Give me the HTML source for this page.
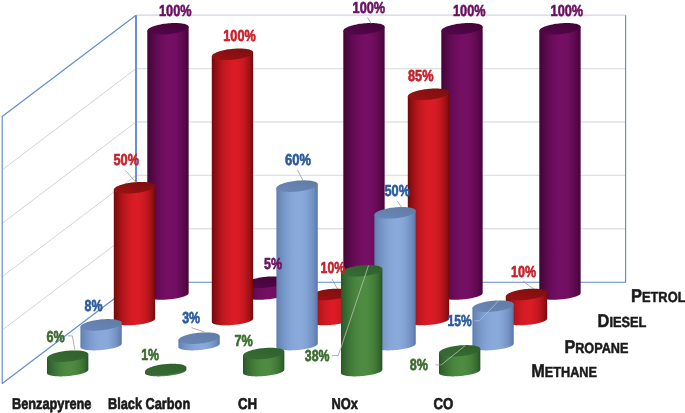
<!DOCTYPE html>
<html><head><meta charset="utf-8"><title>Chart</title>
<style>html,body{margin:0;padding:0;background:#fff;}body{width:685px;height:413px;overflow:hidden;}svg{display:block;}text{text-rendering:geometricPrecision;}</style>
</head><body>
<svg width="685" height="413" viewBox="0 0 685 413">
<defs><linearGradient id="g-purple" x1="0" y1="0" x2="1" y2="0"><stop offset="0" stop-color="#3e0334"/><stop offset="0.04" stop-color="#47053c"/><stop offset="0.08" stop-color="#4e0642"/><stop offset="0.14" stop-color="#570849"/><stop offset="0.2" stop-color="#5e0a50"/><stop offset="0.27" stop-color="#660c57"/><stop offset="0.35" stop-color="#6d0d5d"/><stop offset="0.45" stop-color="#730f62"/><stop offset="0.55" stop-color="#750f64"/><stop offset="0.65" stop-color="#730f62"/><stop offset="0.73" stop-color="#6e0d5e"/><stop offset="0.8" stop-color="#660c57"/><stop offset="0.86" stop-color="#5e0a50"/><stop offset="0.92" stop-color="#540847"/><stop offset="0.96" stop-color="#4b063f"/><stop offset="1" stop-color="#3c0332"/></linearGradient><linearGradient id="t-purple" x1="0" y1="1" x2="1" y2="0"><stop offset="0" stop-color="#54074b"/><stop offset="1" stop-color="#440339"/></linearGradient><linearGradient id="g-red" x1="0" y1="0" x2="1" y2="0"><stop offset="0" stop-color="#700808"/><stop offset="0.04" stop-color="#810b0d"/><stop offset="0.08" stop-color="#8e0e11"/><stop offset="0.14" stop-color="#9f1115"/><stop offset="0.2" stop-color="#ae141a"/><stop offset="0.27" stop-color="#bd171e"/><stop offset="0.35" stop-color="#cb1922"/><stop offset="0.45" stop-color="#d61b25"/><stop offset="0.55" stop-color="#da1c26"/><stop offset="0.65" stop-color="#d61b25"/><stop offset="0.73" stop-color="#cc1a22"/><stop offset="0.8" stop-color="#be171f"/><stop offset="0.86" stop-color="#ae141a"/><stop offset="0.92" stop-color="#9a1115"/><stop offset="0.96" stop-color="#880e10"/><stop offset="1" stop-color="#6c0909"/></linearGradient><linearGradient id="t-red" x1="0" y1="1" x2="1" y2="0"><stop offset="0" stop-color="#9a1214"/><stop offset="1" stop-color="#7d0e0e"/></linearGradient><linearGradient id="g-blue" x1="0" y1="0" x2="1" y2="0"><stop offset="0" stop-color="#5f7eb0"/><stop offset="0.04" stop-color="#6685b7"/><stop offset="0.08" stop-color="#6b8bbd"/><stop offset="0.14" stop-color="#7292c4"/><stop offset="0.2" stop-color="#7898ca"/><stop offset="0.27" stop-color="#7e9ed0"/><stop offset="0.35" stop-color="#84a4d6"/><stop offset="0.45" stop-color="#88a8da"/><stop offset="0.55" stop-color="#8aaadc"/><stop offset="0.65" stop-color="#88a8da"/><stop offset="0.73" stop-color="#83a3d4"/><stop offset="0.8" stop-color="#7c9bcd"/><stop offset="0.86" stop-color="#7593c5"/><stop offset="0.92" stop-color="#6b89ba"/><stop offset="0.96" stop-color="#6380b1"/><stop offset="1" stop-color="#5571a2"/></linearGradient><linearGradient id="t-blue" x1="0" y1="1" x2="1" y2="0"><stop offset="0" stop-color="#6a87b6"/><stop offset="1" stop-color="#607ba6"/></linearGradient><linearGradient id="g-green" x1="0" y1="0" x2="1" y2="0"><stop offset="0" stop-color="#265727"/><stop offset="0.04" stop-color="#2d5f2b"/><stop offset="0.08" stop-color="#32662e"/><stop offset="0.14" stop-color="#386e33"/><stop offset="0.2" stop-color="#3e7636"/><stop offset="0.27" stop-color="#447d3a"/><stop offset="0.35" stop-color="#49843d"/><stop offset="0.45" stop-color="#4d8940"/><stop offset="0.55" stop-color="#4f8b41"/><stop offset="0.65" stop-color="#4d8940"/><stop offset="0.73" stop-color="#49833d"/><stop offset="0.8" stop-color="#447c3a"/><stop offset="0.86" stop-color="#3d7335"/><stop offset="0.92" stop-color="#356930"/><stop offset="0.96" stop-color="#2e5f2b"/><stop offset="1" stop-color="#235024"/></linearGradient><linearGradient id="t-green" x1="0" y1="1" x2="1" y2="0"><stop offset="0" stop-color="#386c34"/><stop offset="1" stop-color="#30602d"/></linearGradient></defs>
<rect width="685" height="413" fill="#fff"/>
<path d="M2.2,169.90 L136.0,68.60" fill="none" stroke="#d4d4d4" stroke-width="1"/>
<path d="M136.0,68.60 L625.6,68.60" fill="none" stroke="#e0e0e0" stroke-width="1.4"/>
<path d="M2.2,223.30 L136.0,122.00" fill="none" stroke="#d4d4d4" stroke-width="1"/>
<path d="M136.0,122.00 L625.6,122.00" fill="none" stroke="#e0e0e0" stroke-width="1.4"/>
<path d="M2.2,276.70 L136.0,175.40" fill="none" stroke="#d4d4d4" stroke-width="1"/>
<path d="M136.0,175.40 L625.6,175.40" fill="none" stroke="#e0e0e0" stroke-width="1.4"/>
<path d="M2.2,330.10 L136.0,228.80" fill="none" stroke="#d4d4d4" stroke-width="1"/>
<path d="M136.0,228.80 L625.6,228.80" fill="none" stroke="#e0e0e0" stroke-width="1.4"/>
<path d="M136.0,15.2 L625.6,15.2" fill="none" stroke="#cfd5e2" stroke-width="1.2"/>
<path d="M136.0,15.2 L2.2,116.50 L2.2,383.50 L136.0,282.2 L625.6,282.2 L625.6,15.2" fill="none" stroke="#5f8bd0" stroke-width="1.15" stroke-linejoin="round"/>
<path d="M136.0,15.2 L136.0,282.2" fill="none" stroke="#5f8bd0" stroke-width="1.9"/>
<path d="M147.30,30.76 L147.30,296.49 L147.36,296.86 L147.55,297.21 L147.87,297.54 L148.31,297.86 L148.87,298.16 L149.55,298.44 L150.35,298.70 L151.25,298.94 L152.25,299.14 L153.35,299.32 L154.55,299.48 L155.82,299.60 L157.17,299.70 L158.59,299.76 L160.06,299.79 L161.58,299.80 L163.15,299.77 L164.74,299.71 L166.35,299.62 L167.97,299.50 L169.59,299.36 L171.20,299.18 L172.80,298.98 L174.36,298.75 L175.88,298.50 L177.36,298.22 L178.77,297.93 L180.12,297.61 L181.40,297.28 L182.59,296.93 L183.69,296.57 L184.69,296.20 L185.60,295.81 L186.39,295.43 L187.07,295.04 L187.63,294.64 L188.07,294.25 L188.39,293.86 L188.58,293.48 L188.64,293.11 L188.64,26.84 Z" fill="url(#g-purple)"/><path d="M187.42,28.80 L187.91,28.34 L188.28,27.89 L188.52,27.45 L188.63,27.01 L188.62,26.58 L188.48,26.17 L188.21,25.77 L187.82,25.39 L187.31,25.03 L186.67,24.70 L185.93,24.39 L185.07,24.11 L184.10,23.85 L183.04,23.63 L181.88,23.44 L180.64,23.28 L179.32,23.16 L177.93,23.07 L176.48,23.02 L174.97,23.00 L173.42,23.02 L171.84,23.07 L170.24,23.16 L168.62,23.28 L167.00,23.44 L165.38,23.63 L163.78,23.85 L162.20,24.11 L160.66,24.39 L159.17,24.70 L157.73,25.03 L156.35,25.39 L155.04,25.77 L153.82,26.17 L152.68,26.58 L151.64,27.01 L150.69,27.45 L149.86,27.89 L149.13,28.34 L148.52,28.80 L148.03,29.26 L147.67,29.71 L147.42,30.15 L147.31,30.59 L147.32,31.02 L147.46,31.43 L147.73,31.83 L148.12,32.21 L148.64,32.57 L149.27,32.90 L150.02,33.21 L150.88,33.49 L151.84,33.75 L152.90,33.97 L154.06,34.16 L155.30,34.32 L156.62,34.44 L158.01,34.53 L159.47,34.58 L160.97,34.60 L162.52,34.58 L164.10,34.53 L165.71,34.44 L167.32,34.32 L168.95,34.16 L170.56,33.97 L172.17,33.75 L173.74,33.49 L175.28,33.21 L176.77,32.90 L178.22,32.57 L179.59,32.21 L180.90,31.83 L182.12,31.43 L183.26,31.02 L184.31,30.59 L185.25,30.15 L186.09,29.71 L186.81,29.26 Z" fill="url(#t-purple)"/>
<path d="M245.30,284.22 L245.30,296.49 L245.36,296.86 L245.55,297.21 L245.87,297.54 L246.31,297.86 L246.87,298.16 L247.55,298.44 L248.35,298.70 L249.25,298.94 L250.25,299.14 L251.35,299.32 L252.55,299.48 L253.82,299.60 L255.17,299.70 L256.59,299.76 L258.06,299.79 L259.58,299.80 L261.15,299.77 L262.74,299.71 L264.35,299.62 L265.97,299.50 L267.59,299.36 L269.20,299.18 L270.80,298.98 L272.36,298.75 L273.88,298.50 L275.36,298.22 L276.77,297.93 L278.12,297.61 L279.40,297.28 L280.59,296.93 L281.69,296.57 L282.69,296.20 L283.60,295.81 L284.39,295.43 L285.07,295.04 L285.63,294.64 L286.07,294.25 L286.39,293.86 L286.58,293.48 L286.64,293.11 L286.64,280.30 Z" fill="url(#g-purple)"/><path d="M285.42,282.26 L285.91,281.80 L286.28,281.35 L286.52,280.91 L286.63,280.47 L286.62,280.04 L286.48,279.63 L286.21,279.23 L285.82,278.85 L285.31,278.49 L284.67,278.16 L283.93,277.85 L283.07,277.57 L282.10,277.31 L281.04,277.09 L279.88,276.90 L278.64,276.74 L277.32,276.62 L275.93,276.53 L274.48,276.48 L272.97,276.46 L271.42,276.48 L269.84,276.53 L268.24,276.62 L266.62,276.74 L265.00,276.90 L263.38,277.09 L261.78,277.31 L260.20,277.57 L258.66,277.85 L257.17,278.16 L255.73,278.49 L254.35,278.85 L253.04,279.23 L251.82,279.63 L250.68,280.04 L249.64,280.47 L248.69,280.91 L247.86,281.35 L247.13,281.80 L246.52,282.26 L246.03,282.72 L245.67,283.17 L245.42,283.61 L245.31,284.05 L245.32,284.48 L245.46,284.89 L245.73,285.29 L246.12,285.67 L246.64,286.03 L247.27,286.36 L248.02,286.67 L248.88,286.95 L249.84,287.21 L250.90,287.43 L252.06,287.62 L253.30,287.78 L254.62,287.90 L256.01,287.99 L257.47,288.04 L258.97,288.06 L260.52,288.04 L262.10,287.99 L263.71,287.90 L265.32,287.78 L266.95,287.62 L268.56,287.43 L270.17,287.21 L271.74,286.95 L273.28,286.67 L274.77,286.36 L276.22,286.03 L277.59,285.67 L278.90,285.29 L280.12,284.89 L281.26,284.48 L282.31,284.05 L283.25,283.61 L284.09,283.17 L284.81,282.72 Z" fill="url(#t-purple)"/>
<path d="M343.30,30.76 L343.30,296.49 L343.36,296.86 L343.55,297.21 L343.87,297.54 L344.31,297.86 L344.87,298.16 L345.55,298.44 L346.35,298.70 L347.25,298.94 L348.25,299.14 L349.35,299.32 L350.55,299.48 L351.82,299.60 L353.17,299.70 L354.59,299.76 L356.06,299.79 L357.58,299.80 L359.15,299.77 L360.74,299.71 L362.35,299.62 L363.97,299.50 L365.59,299.36 L367.20,299.18 L368.80,298.98 L370.36,298.75 L371.88,298.50 L373.36,298.22 L374.77,297.93 L376.12,297.61 L377.40,297.28 L378.59,296.93 L379.69,296.57 L380.69,296.20 L381.60,295.81 L382.39,295.43 L383.07,295.04 L383.63,294.64 L384.07,294.25 L384.39,293.86 L384.58,293.48 L384.64,293.11 L384.64,26.84 Z" fill="url(#g-purple)"/><path d="M383.42,28.80 L383.91,28.34 L384.28,27.89 L384.52,27.45 L384.63,27.01 L384.62,26.58 L384.48,26.17 L384.21,25.77 L383.82,25.39 L383.31,25.03 L382.67,24.70 L381.93,24.39 L381.07,24.11 L380.10,23.85 L379.04,23.63 L377.88,23.44 L376.64,23.28 L375.32,23.16 L373.93,23.07 L372.48,23.02 L370.97,23.00 L369.42,23.02 L367.84,23.07 L366.24,23.16 L364.62,23.28 L363.00,23.44 L361.38,23.63 L359.78,23.85 L358.20,24.11 L356.66,24.39 L355.17,24.70 L353.73,25.03 L352.35,25.39 L351.04,25.77 L349.82,26.17 L348.68,26.58 L347.64,27.01 L346.69,27.45 L345.86,27.89 L345.13,28.34 L344.52,28.80 L344.03,29.26 L343.67,29.71 L343.42,30.15 L343.31,30.59 L343.32,31.02 L343.46,31.43 L343.73,31.83 L344.12,32.21 L344.64,32.57 L345.27,32.90 L346.02,33.21 L346.88,33.49 L347.84,33.75 L348.90,33.97 L350.06,34.16 L351.30,34.32 L352.62,34.44 L354.01,34.53 L355.47,34.58 L356.97,34.60 L358.52,34.58 L360.10,34.53 L361.71,34.44 L363.32,34.32 L364.95,34.16 L366.56,33.97 L368.17,33.75 L369.74,33.49 L371.28,33.21 L372.77,32.90 L374.22,32.57 L375.59,32.21 L376.90,31.83 L378.12,31.43 L379.26,31.02 L380.31,30.59 L381.25,30.15 L382.09,29.71 L382.81,29.26 Z" fill="url(#t-purple)"/>
<path d="M441.30,30.76 L441.30,296.49 L441.36,296.86 L441.55,297.21 L441.87,297.54 L442.31,297.86 L442.87,298.16 L443.55,298.44 L444.35,298.70 L445.25,298.94 L446.25,299.14 L447.35,299.32 L448.55,299.48 L449.82,299.60 L451.17,299.70 L452.59,299.76 L454.06,299.79 L455.58,299.80 L457.15,299.77 L458.74,299.71 L460.35,299.62 L461.97,299.50 L463.59,299.36 L465.20,299.18 L466.80,298.98 L468.36,298.75 L469.88,298.50 L471.36,298.22 L472.77,297.93 L474.12,297.61 L475.40,297.28 L476.59,296.93 L477.69,296.57 L478.69,296.20 L479.60,295.81 L480.39,295.43 L481.07,295.04 L481.63,294.64 L482.07,294.25 L482.39,293.86 L482.58,293.48 L482.64,293.11 L482.64,26.84 Z" fill="url(#g-purple)"/><path d="M481.42,28.80 L481.91,28.34 L482.28,27.89 L482.52,27.45 L482.63,27.01 L482.62,26.58 L482.48,26.17 L482.21,25.77 L481.82,25.39 L481.31,25.03 L480.67,24.70 L479.93,24.39 L479.07,24.11 L478.10,23.85 L477.04,23.63 L475.88,23.44 L474.64,23.28 L473.32,23.16 L471.93,23.07 L470.48,23.02 L468.97,23.00 L467.42,23.02 L465.84,23.07 L464.24,23.16 L462.62,23.28 L461.00,23.44 L459.38,23.63 L457.78,23.85 L456.20,24.11 L454.66,24.39 L453.17,24.70 L451.73,25.03 L450.35,25.39 L449.04,25.77 L447.82,26.17 L446.68,26.58 L445.64,27.01 L444.69,27.45 L443.86,27.89 L443.13,28.34 L442.52,28.80 L442.03,29.26 L441.67,29.71 L441.42,30.15 L441.31,30.59 L441.32,31.02 L441.46,31.43 L441.73,31.83 L442.12,32.21 L442.64,32.57 L443.27,32.90 L444.02,33.21 L444.88,33.49 L445.84,33.75 L446.90,33.97 L448.06,34.16 L449.30,34.32 L450.62,34.44 L452.01,34.53 L453.47,34.58 L454.97,34.60 L456.52,34.58 L458.10,34.53 L459.71,34.44 L461.32,34.32 L462.95,34.16 L464.56,33.97 L466.17,33.75 L467.74,33.49 L469.28,33.21 L470.77,32.90 L472.22,32.57 L473.59,32.21 L474.90,31.83 L476.12,31.43 L477.26,31.02 L478.31,30.59 L479.25,30.15 L480.09,29.71 L480.81,29.26 Z" fill="url(#t-purple)"/>
<path d="M539.30,30.76 L539.30,296.49 L539.36,296.86 L539.55,297.21 L539.87,297.54 L540.31,297.86 L540.87,298.16 L541.55,298.44 L542.35,298.70 L543.25,298.94 L544.25,299.14 L545.35,299.32 L546.55,299.48 L547.82,299.60 L549.17,299.70 L550.59,299.76 L552.06,299.79 L553.58,299.80 L555.15,299.77 L556.74,299.71 L558.35,299.62 L559.97,299.50 L561.59,299.36 L563.20,299.18 L564.80,298.98 L566.36,298.75 L567.88,298.50 L569.36,298.22 L570.77,297.93 L572.12,297.61 L573.40,297.28 L574.59,296.93 L575.69,296.57 L576.69,296.20 L577.60,295.81 L578.39,295.43 L579.07,295.04 L579.63,294.64 L580.07,294.25 L580.39,293.86 L580.58,293.48 L580.64,293.11 L580.64,26.84 Z" fill="url(#g-purple)"/><path d="M579.42,28.80 L579.91,28.34 L580.28,27.89 L580.52,27.45 L580.63,27.01 L580.62,26.58 L580.48,26.17 L580.21,25.77 L579.82,25.39 L579.31,25.03 L578.67,24.70 L577.93,24.39 L577.07,24.11 L576.10,23.85 L575.04,23.63 L573.88,23.44 L572.64,23.28 L571.32,23.16 L569.93,23.07 L568.48,23.02 L566.97,23.00 L565.42,23.02 L563.84,23.07 L562.24,23.16 L560.62,23.28 L559.00,23.44 L557.38,23.63 L555.78,23.85 L554.20,24.11 L552.66,24.39 L551.17,24.70 L549.73,25.03 L548.35,25.39 L547.04,25.77 L545.82,26.17 L544.68,26.58 L543.64,27.01 L542.69,27.45 L541.86,27.89 L541.13,28.34 L540.52,28.80 L540.03,29.26 L539.67,29.71 L539.42,30.15 L539.31,30.59 L539.32,31.02 L539.46,31.43 L539.73,31.83 L540.12,32.21 L540.64,32.57 L541.27,32.90 L542.02,33.21 L542.88,33.49 L543.84,33.75 L544.90,33.97 L546.06,34.16 L547.30,34.32 L548.62,34.44 L550.01,34.53 L551.47,34.58 L552.97,34.60 L554.52,34.58 L556.10,34.53 L557.71,34.44 L559.32,34.32 L560.95,34.16 L562.56,33.97 L564.17,33.75 L565.74,33.49 L567.28,33.21 L568.77,32.90 L570.22,32.57 L571.59,32.21 L572.90,31.83 L574.12,31.43 L575.26,31.02 L576.31,30.59 L577.25,30.15 L578.09,29.71 L578.81,29.26 Z" fill="url(#t-purple)"/>
<path d="M113.80,189.66 L113.80,321.99 L113.86,322.36 L114.05,322.71 L114.37,323.04 L114.81,323.36 L115.37,323.66 L116.05,323.94 L116.85,324.20 L117.75,324.44 L118.75,324.64 L119.85,324.82 L121.05,324.98 L122.32,325.10 L123.67,325.20 L125.09,325.26 L126.56,325.29 L128.08,325.30 L129.65,325.27 L131.24,325.21 L132.85,325.12 L134.47,325.00 L136.09,324.86 L137.70,324.68 L139.30,324.48 L140.86,324.25 L142.38,324.00 L143.86,323.72 L145.27,323.43 L146.62,323.11 L147.90,322.78 L149.09,322.43 L150.19,322.07 L151.19,321.70 L152.10,321.31 L152.89,320.93 L153.57,320.54 L154.13,320.14 L154.57,319.75 L154.89,319.36 L155.08,318.98 L155.14,318.61 L155.14,185.74 Z" fill="url(#g-red)"/><path d="M153.92,187.70 L154.41,187.24 L154.78,186.79 L155.02,186.35 L155.13,185.91 L155.12,185.48 L154.98,185.07 L154.71,184.67 L154.32,184.29 L153.81,183.93 L153.17,183.60 L152.43,183.29 L151.57,183.01 L150.60,182.75 L149.54,182.53 L148.38,182.34 L147.14,182.18 L145.82,182.06 L144.43,181.97 L142.98,181.92 L141.47,181.90 L139.92,181.92 L138.34,181.97 L136.74,182.06 L135.12,182.18 L133.50,182.34 L131.88,182.53 L130.28,182.75 L128.70,183.01 L127.16,183.29 L125.67,183.60 L124.23,183.93 L122.85,184.29 L121.54,184.67 L120.32,185.07 L119.18,185.48 L118.14,185.91 L117.19,186.35 L116.36,186.79 L115.63,187.24 L115.02,187.70 L114.53,188.16 L114.17,188.61 L113.92,189.05 L113.81,189.49 L113.82,189.92 L113.96,190.33 L114.23,190.73 L114.62,191.11 L115.14,191.47 L115.77,191.80 L116.52,192.11 L117.38,192.39 L118.34,192.65 L119.40,192.87 L120.56,193.06 L121.80,193.22 L123.12,193.34 L124.51,193.43 L125.97,193.48 L127.47,193.50 L129.02,193.48 L130.60,193.43 L132.21,193.34 L133.82,193.22 L135.45,193.06 L137.06,192.87 L138.67,192.65 L140.24,192.39 L141.78,192.11 L143.27,191.80 L144.72,191.47 L146.09,191.11 L147.40,190.73 L148.62,190.33 L149.76,189.92 L150.81,189.49 L151.75,189.05 L152.59,188.61 L153.31,188.16 Z" fill="url(#t-red)"/>
<path d="M211.80,56.26 L211.80,321.99 L211.86,322.36 L212.05,322.71 L212.37,323.04 L212.81,323.36 L213.37,323.66 L214.05,323.94 L214.85,324.20 L215.75,324.44 L216.75,324.64 L217.85,324.82 L219.05,324.98 L220.32,325.10 L221.67,325.20 L223.09,325.26 L224.56,325.29 L226.08,325.30 L227.65,325.27 L229.24,325.21 L230.85,325.12 L232.47,325.00 L234.09,324.86 L235.70,324.68 L237.30,324.48 L238.86,324.25 L240.38,324.00 L241.86,323.72 L243.27,323.43 L244.62,323.11 L245.90,322.78 L247.09,322.43 L248.19,322.07 L249.19,321.70 L250.10,321.31 L250.89,320.93 L251.57,320.54 L252.13,320.14 L252.57,319.75 L252.89,319.36 L253.08,318.98 L253.14,318.61 L253.14,52.34 Z" fill="url(#g-red)"/><path d="M251.92,54.30 L252.41,53.84 L252.78,53.39 L253.02,52.95 L253.13,52.51 L253.12,52.08 L252.98,51.67 L252.71,51.27 L252.32,50.89 L251.81,50.53 L251.17,50.20 L250.43,49.89 L249.57,49.61 L248.60,49.35 L247.54,49.13 L246.38,48.94 L245.14,48.78 L243.82,48.66 L242.43,48.57 L240.98,48.52 L239.47,48.50 L237.92,48.52 L236.34,48.57 L234.74,48.66 L233.12,48.78 L231.50,48.94 L229.88,49.13 L228.28,49.35 L226.70,49.61 L225.16,49.89 L223.67,50.20 L222.23,50.53 L220.85,50.89 L219.54,51.27 L218.32,51.67 L217.18,52.08 L216.14,52.51 L215.19,52.95 L214.36,53.39 L213.63,53.84 L213.02,54.30 L212.53,54.76 L212.17,55.21 L211.92,55.65 L211.81,56.09 L211.82,56.52 L211.96,56.93 L212.23,57.33 L212.62,57.71 L213.14,58.07 L213.77,58.40 L214.52,58.71 L215.38,58.99 L216.34,59.25 L217.40,59.47 L218.56,59.66 L219.80,59.82 L221.12,59.94 L222.51,60.03 L223.97,60.08 L225.47,60.10 L227.02,60.08 L228.60,60.03 L230.21,59.94 L231.82,59.82 L233.45,59.66 L235.06,59.47 L236.67,59.25 L238.24,58.99 L239.78,58.71 L241.27,58.40 L242.72,58.07 L244.09,57.71 L245.40,57.33 L246.62,56.93 L247.76,56.52 L248.81,56.09 L249.75,55.65 L250.59,55.21 L251.31,54.76 Z" fill="url(#t-red)"/>
<path d="M309.80,296.38 L309.80,321.99 L309.86,322.36 L310.05,322.71 L310.37,323.04 L310.81,323.36 L311.37,323.66 L312.05,323.94 L312.85,324.20 L313.75,324.44 L314.75,324.64 L315.85,324.82 L317.05,324.98 L318.32,325.10 L319.67,325.20 L321.09,325.26 L322.56,325.29 L324.08,325.30 L325.65,325.27 L327.24,325.21 L328.85,325.12 L330.47,325.00 L332.09,324.86 L333.70,324.68 L335.30,324.48 L336.86,324.25 L338.38,324.00 L339.86,323.72 L341.27,323.43 L342.62,323.11 L343.90,322.78 L345.09,322.43 L346.19,322.07 L347.19,321.70 L348.10,321.31 L348.89,320.93 L349.57,320.54 L350.13,320.14 L350.57,319.75 L350.89,319.36 L351.08,318.98 L351.14,318.61 L351.14,292.46 Z" fill="url(#g-red)"/><path d="M349.92,294.42 L350.41,293.96 L350.78,293.51 L351.02,293.07 L351.13,292.63 L351.12,292.20 L350.98,291.79 L350.71,291.39 L350.32,291.01 L349.81,290.65 L349.17,290.32 L348.43,290.01 L347.57,289.73 L346.60,289.47 L345.54,289.25 L344.38,289.06 L343.14,288.90 L341.82,288.78 L340.43,288.69 L338.98,288.64 L337.47,288.62 L335.92,288.64 L334.34,288.69 L332.74,288.78 L331.12,288.90 L329.50,289.06 L327.88,289.25 L326.28,289.47 L324.70,289.73 L323.16,290.01 L321.67,290.32 L320.23,290.65 L318.85,291.01 L317.54,291.39 L316.32,291.79 L315.18,292.20 L314.14,292.63 L313.19,293.07 L312.36,293.51 L311.63,293.96 L311.02,294.42 L310.53,294.88 L310.17,295.33 L309.92,295.77 L309.81,296.21 L309.82,296.64 L309.96,297.05 L310.23,297.45 L310.62,297.83 L311.14,298.19 L311.77,298.52 L312.52,298.83 L313.38,299.11 L314.34,299.37 L315.40,299.59 L316.56,299.78 L317.80,299.94 L319.12,300.06 L320.51,300.15 L321.97,300.20 L323.47,300.22 L325.02,300.20 L326.60,300.15 L328.21,300.06 L329.82,299.94 L331.45,299.78 L333.06,299.59 L334.67,299.37 L336.24,299.11 L337.78,298.83 L339.27,298.52 L340.72,298.19 L342.09,297.83 L343.40,297.45 L344.62,297.05 L345.76,296.64 L346.81,296.21 L347.75,295.77 L348.59,295.33 L349.31,294.88 Z" fill="url(#t-red)"/>
<path d="M407.80,96.28 L407.80,321.99 L407.86,322.36 L408.05,322.71 L408.37,323.04 L408.81,323.36 L409.37,323.66 L410.05,323.94 L410.85,324.20 L411.75,324.44 L412.75,324.64 L413.85,324.82 L415.05,324.98 L416.32,325.10 L417.67,325.20 L419.09,325.26 L420.56,325.29 L422.08,325.30 L423.65,325.27 L425.24,325.21 L426.85,325.12 L428.47,325.00 L430.09,324.86 L431.70,324.68 L433.30,324.48 L434.86,324.25 L436.38,324.00 L437.86,323.72 L439.27,323.43 L440.62,323.11 L441.90,322.78 L443.09,322.43 L444.19,322.07 L445.19,321.70 L446.10,321.31 L446.89,320.93 L447.57,320.54 L448.13,320.14 L448.57,319.75 L448.89,319.36 L449.08,318.98 L449.14,318.61 L449.14,92.36 Z" fill="url(#g-red)"/><path d="M447.92,94.32 L448.41,93.86 L448.78,93.41 L449.02,92.97 L449.13,92.53 L449.12,92.10 L448.98,91.69 L448.71,91.29 L448.32,90.91 L447.81,90.55 L447.17,90.22 L446.43,89.91 L445.57,89.63 L444.60,89.37 L443.54,89.15 L442.38,88.96 L441.14,88.80 L439.82,88.68 L438.43,88.59 L436.98,88.54 L435.47,88.52 L433.92,88.54 L432.34,88.59 L430.74,88.68 L429.12,88.80 L427.50,88.96 L425.88,89.15 L424.28,89.37 L422.70,89.63 L421.16,89.91 L419.67,90.22 L418.23,90.55 L416.85,90.91 L415.54,91.29 L414.32,91.69 L413.18,92.10 L412.14,92.53 L411.19,92.97 L410.36,93.41 L409.63,93.86 L409.02,94.32 L408.53,94.78 L408.17,95.23 L407.92,95.67 L407.81,96.11 L407.82,96.54 L407.96,96.95 L408.23,97.35 L408.62,97.73 L409.14,98.09 L409.77,98.42 L410.52,98.73 L411.38,99.01 L412.34,99.27 L413.40,99.49 L414.56,99.68 L415.80,99.84 L417.12,99.96 L418.51,100.05 L419.97,100.10 L421.47,100.12 L423.02,100.10 L424.60,100.05 L426.21,99.96 L427.82,99.84 L429.45,99.68 L431.06,99.49 L432.67,99.27 L434.24,99.01 L435.78,98.73 L437.27,98.42 L438.72,98.09 L440.09,97.73 L441.40,97.35 L442.62,96.95 L443.76,96.54 L444.81,96.11 L445.75,95.67 L446.59,95.23 L447.31,94.78 Z" fill="url(#t-red)"/>
<path d="M505.80,296.38 L505.80,321.99 L505.86,322.36 L506.05,322.71 L506.37,323.04 L506.81,323.36 L507.37,323.66 L508.05,323.94 L508.85,324.20 L509.75,324.44 L510.75,324.64 L511.85,324.82 L513.05,324.98 L514.32,325.10 L515.67,325.20 L517.09,325.26 L518.56,325.29 L520.08,325.30 L521.65,325.27 L523.24,325.21 L524.85,325.12 L526.47,325.00 L528.09,324.86 L529.70,324.68 L531.30,324.48 L532.86,324.25 L534.38,324.00 L535.86,323.72 L537.27,323.43 L538.62,323.11 L539.90,322.78 L541.09,322.43 L542.19,322.07 L543.19,321.70 L544.10,321.31 L544.89,320.93 L545.57,320.54 L546.13,320.14 L546.57,319.75 L546.89,319.36 L547.08,318.98 L547.14,318.61 L547.14,292.46 Z" fill="url(#g-red)"/><path d="M545.92,294.42 L546.41,293.96 L546.78,293.51 L547.02,293.07 L547.13,292.63 L547.12,292.20 L546.98,291.79 L546.71,291.39 L546.32,291.01 L545.81,290.65 L545.17,290.32 L544.43,290.01 L543.57,289.73 L542.60,289.47 L541.54,289.25 L540.38,289.06 L539.14,288.90 L537.82,288.78 L536.43,288.69 L534.98,288.64 L533.47,288.62 L531.92,288.64 L530.34,288.69 L528.74,288.78 L527.12,288.90 L525.50,289.06 L523.88,289.25 L522.28,289.47 L520.70,289.73 L519.16,290.01 L517.67,290.32 L516.23,290.65 L514.85,291.01 L513.54,291.39 L512.32,291.79 L511.18,292.20 L510.14,292.63 L509.19,293.07 L508.36,293.51 L507.63,293.96 L507.02,294.42 L506.53,294.88 L506.17,295.33 L505.92,295.77 L505.81,296.21 L505.82,296.64 L505.96,297.05 L506.23,297.45 L506.62,297.83 L507.14,298.19 L507.77,298.52 L508.52,298.83 L509.38,299.11 L510.34,299.37 L511.40,299.59 L512.56,299.78 L513.80,299.94 L515.12,300.06 L516.51,300.15 L517.97,300.20 L519.47,300.22 L521.02,300.20 L522.60,300.15 L524.21,300.06 L525.82,299.94 L527.45,299.78 L529.06,299.59 L530.67,299.37 L532.24,299.11 L533.78,298.83 L535.27,298.52 L536.72,298.19 L538.09,297.83 L539.40,297.45 L540.62,297.05 L541.76,296.64 L542.81,296.21 L543.75,295.77 L544.59,295.33 L545.31,294.88 Z" fill="url(#t-red)"/>
<path d="M80.40,326.82 L80.40,347.09 L80.46,347.46 L80.65,347.81 L80.97,348.14 L81.41,348.46 L81.97,348.76 L82.65,349.04 L83.45,349.30 L84.35,349.54 L85.35,349.74 L86.45,349.92 L87.65,350.08 L88.92,350.20 L90.27,350.30 L91.69,350.36 L93.16,350.39 L94.68,350.40 L96.25,350.37 L97.84,350.31 L99.45,350.22 L101.07,350.10 L102.69,349.96 L104.30,349.78 L105.90,349.58 L107.46,349.35 L108.98,349.10 L110.46,348.82 L111.87,348.53 L113.22,348.21 L114.50,347.88 L115.69,347.53 L116.79,347.17 L117.79,346.80 L118.70,346.41 L119.49,346.03 L120.17,345.64 L120.73,345.24 L121.17,344.85 L121.49,344.46 L121.68,344.08 L121.74,343.71 L121.74,322.89 Z" fill="url(#g-blue)"/><path d="M120.52,324.86 L121.01,324.40 L121.38,323.95 L121.62,323.50 L121.73,323.06 L121.72,322.64 L121.58,322.22 L121.31,321.83 L120.92,321.45 L120.41,321.09 L119.77,320.75 L119.03,320.45 L118.17,320.16 L117.20,319.91 L116.14,319.69 L114.98,319.50 L113.74,319.34 L112.42,319.22 L111.03,319.13 L109.58,319.07 L108.07,319.06 L106.52,319.07 L104.94,319.13 L103.34,319.22 L101.72,319.34 L100.10,319.50 L98.48,319.69 L96.88,319.91 L95.30,320.16 L93.76,320.45 L92.27,320.75 L90.83,321.09 L89.45,321.45 L88.14,321.83 L86.92,322.22 L85.78,322.64 L84.74,323.06 L83.79,323.50 L82.96,323.95 L82.23,324.40 L81.62,324.86 L81.13,325.31 L80.77,325.76 L80.52,326.21 L80.41,326.65 L80.42,327.08 L80.56,327.49 L80.83,327.89 L81.22,328.27 L81.74,328.62 L82.37,328.96 L83.12,329.27 L83.98,329.55 L84.94,329.80 L86.00,330.02 L87.16,330.21 L88.40,330.37 L89.72,330.50 L91.11,330.58 L92.57,330.64 L94.07,330.66 L95.62,330.64 L97.20,330.58 L98.81,330.50 L100.42,330.37 L102.05,330.21 L103.66,330.02 L105.27,329.80 L106.84,329.55 L108.38,329.27 L109.87,328.96 L111.32,328.62 L112.69,328.27 L114.00,327.89 L115.22,327.49 L116.36,327.08 L117.41,326.65 L118.35,326.21 L119.19,325.76 L119.91,325.31 Z" fill="url(#t-blue)"/>
<path d="M178.40,340.16 L178.40,347.09 L178.46,347.46 L178.65,347.81 L178.97,348.14 L179.41,348.46 L179.97,348.76 L180.65,349.04 L181.45,349.30 L182.35,349.54 L183.35,349.74 L184.45,349.92 L185.65,350.08 L186.92,350.20 L188.27,350.30 L189.69,350.36 L191.16,350.39 L192.68,350.40 L194.25,350.37 L195.84,350.31 L197.45,350.22 L199.07,350.10 L200.69,349.96 L202.30,349.78 L203.90,349.58 L205.46,349.35 L206.98,349.10 L208.46,348.82 L209.87,348.53 L211.22,348.21 L212.50,347.88 L213.69,347.53 L214.79,347.17 L215.79,346.80 L216.70,346.41 L217.49,346.03 L218.17,345.64 L218.73,345.24 L219.17,344.85 L219.49,344.46 L219.68,344.08 L219.74,343.71 L219.74,336.23 Z" fill="url(#g-blue)"/><path d="M218.52,338.20 L219.01,337.74 L219.38,337.29 L219.62,336.84 L219.73,336.40 L219.72,335.98 L219.58,335.56 L219.31,335.17 L218.92,334.79 L218.41,334.43 L217.77,334.09 L217.03,333.79 L216.17,333.50 L215.20,333.25 L214.14,333.03 L212.98,332.84 L211.74,332.68 L210.42,332.56 L209.03,332.47 L207.58,332.41 L206.07,332.40 L204.52,332.41 L202.94,332.47 L201.34,332.56 L199.72,332.68 L198.10,332.84 L196.48,333.03 L194.88,333.25 L193.30,333.50 L191.76,333.79 L190.27,334.09 L188.83,334.43 L187.45,334.79 L186.14,335.17 L184.92,335.56 L183.78,335.98 L182.74,336.40 L181.79,336.84 L180.96,337.29 L180.23,337.74 L179.62,338.20 L179.13,338.65 L178.77,339.10 L178.52,339.55 L178.41,339.99 L178.42,340.42 L178.56,340.83 L178.83,341.23 L179.22,341.61 L179.74,341.96 L180.37,342.30 L181.12,342.61 L181.98,342.89 L182.94,343.14 L184.00,343.36 L185.16,343.55 L186.40,343.71 L187.72,343.84 L189.11,343.92 L190.57,343.98 L192.07,344.00 L193.62,343.98 L195.20,343.92 L196.81,343.84 L198.42,343.71 L200.05,343.55 L201.66,343.36 L203.27,343.14 L204.84,342.89 L206.38,342.61 L207.87,342.30 L209.32,341.96 L210.69,341.61 L212.00,341.23 L213.22,340.83 L214.36,340.42 L215.41,339.99 L216.35,339.55 L217.19,339.10 L217.91,338.65 Z" fill="url(#t-blue)"/>
<path d="M276.40,188.08 L276.40,347.09 L276.46,347.46 L276.65,347.81 L276.97,348.14 L277.41,348.46 L277.97,348.76 L278.65,349.04 L279.45,349.30 L280.35,349.54 L281.35,349.74 L282.45,349.92 L283.65,350.08 L284.92,350.20 L286.27,350.30 L287.69,350.36 L289.16,350.39 L290.68,350.40 L292.25,350.37 L293.84,350.31 L295.45,350.22 L297.07,350.10 L298.69,349.96 L300.30,349.78 L301.90,349.58 L303.46,349.35 L304.98,349.10 L306.46,348.82 L307.87,348.53 L309.22,348.21 L310.50,347.88 L311.69,347.53 L312.79,347.17 L313.79,346.80 L314.70,346.41 L315.49,346.03 L316.17,345.64 L316.73,345.24 L317.17,344.85 L317.49,344.46 L317.68,344.08 L317.74,343.71 L317.74,184.16 Z" fill="url(#g-blue)"/><path d="M316.52,186.12 L317.01,185.66 L317.38,185.21 L317.62,184.77 L317.73,184.33 L317.72,183.90 L317.58,183.49 L317.31,183.09 L316.92,182.71 L316.41,182.35 L315.77,182.02 L315.03,181.71 L314.17,181.43 L313.20,181.17 L312.14,180.95 L310.98,180.76 L309.74,180.60 L308.42,180.48 L307.03,180.39 L305.58,180.34 L304.07,180.32 L302.52,180.34 L300.94,180.39 L299.34,180.48 L297.72,180.60 L296.10,180.76 L294.48,180.95 L292.88,181.17 L291.30,181.43 L289.76,181.71 L288.27,182.02 L286.83,182.35 L285.45,182.71 L284.14,183.09 L282.92,183.49 L281.78,183.90 L280.74,184.33 L279.79,184.77 L278.96,185.21 L278.23,185.66 L277.62,186.12 L277.13,186.58 L276.77,187.03 L276.52,187.47 L276.41,187.91 L276.42,188.34 L276.56,188.75 L276.83,189.15 L277.22,189.53 L277.74,189.89 L278.37,190.22 L279.12,190.53 L279.98,190.81 L280.94,191.07 L282.00,191.29 L283.16,191.48 L284.40,191.64 L285.72,191.76 L287.11,191.85 L288.57,191.90 L290.07,191.92 L291.62,191.90 L293.20,191.85 L294.81,191.76 L296.42,191.64 L298.05,191.48 L299.66,191.29 L301.27,191.07 L302.84,190.81 L304.38,190.53 L305.87,190.22 L307.32,189.89 L308.69,189.53 L310.00,189.15 L311.22,188.75 L312.36,188.34 L313.41,187.91 L314.35,187.47 L315.19,187.03 L315.91,186.58 Z" fill="url(#t-blue)"/>
<path d="M374.40,214.76 L374.40,347.09 L374.46,347.46 L374.65,347.81 L374.97,348.14 L375.41,348.46 L375.97,348.76 L376.65,349.04 L377.45,349.30 L378.35,349.54 L379.35,349.74 L380.45,349.92 L381.65,350.08 L382.92,350.20 L384.27,350.30 L385.69,350.36 L387.16,350.39 L388.68,350.40 L390.25,350.37 L391.84,350.31 L393.45,350.22 L395.07,350.10 L396.69,349.96 L398.30,349.78 L399.90,349.58 L401.46,349.35 L402.98,349.10 L404.46,348.82 L405.87,348.53 L407.22,348.21 L408.50,347.88 L409.69,347.53 L410.79,347.17 L411.79,346.80 L412.70,346.41 L413.49,346.03 L414.17,345.64 L414.73,345.24 L415.17,344.85 L415.49,344.46 L415.68,344.08 L415.74,343.71 L415.74,210.84 Z" fill="url(#g-blue)"/><path d="M414.52,212.80 L415.01,212.34 L415.38,211.89 L415.62,211.45 L415.73,211.01 L415.72,210.58 L415.58,210.17 L415.31,209.77 L414.92,209.39 L414.41,209.03 L413.77,208.70 L413.03,208.39 L412.17,208.11 L411.20,207.85 L410.14,207.63 L408.98,207.44 L407.74,207.28 L406.42,207.16 L405.03,207.07 L403.58,207.02 L402.07,207.00 L400.52,207.02 L398.94,207.07 L397.34,207.16 L395.72,207.28 L394.10,207.44 L392.48,207.63 L390.88,207.85 L389.30,208.11 L387.76,208.39 L386.27,208.70 L384.83,209.03 L383.45,209.39 L382.14,209.77 L380.92,210.17 L379.78,210.58 L378.74,211.01 L377.79,211.45 L376.96,211.89 L376.23,212.34 L375.62,212.80 L375.13,213.26 L374.77,213.71 L374.52,214.15 L374.41,214.59 L374.42,215.02 L374.56,215.43 L374.83,215.83 L375.22,216.21 L375.74,216.57 L376.37,216.90 L377.12,217.21 L377.98,217.49 L378.94,217.75 L380.00,217.97 L381.16,218.16 L382.40,218.32 L383.72,218.44 L385.11,218.53 L386.57,218.58 L388.07,218.60 L389.62,218.58 L391.20,218.53 L392.81,218.44 L394.42,218.32 L396.05,218.16 L397.66,217.97 L399.27,217.75 L400.84,217.49 L402.38,217.21 L403.87,216.90 L405.32,216.57 L406.69,216.21 L408.00,215.83 L409.22,215.43 L410.36,215.02 L411.41,214.59 L412.35,214.15 L413.19,213.71 L413.91,213.26 Z" fill="url(#t-blue)"/>
<path d="M472.40,308.14 L472.40,347.09 L472.46,347.46 L472.65,347.81 L472.97,348.14 L473.41,348.46 L473.97,348.76 L474.65,349.04 L475.45,349.30 L476.35,349.54 L477.35,349.74 L478.45,349.92 L479.65,350.08 L480.92,350.20 L482.27,350.30 L483.69,350.36 L485.16,350.39 L486.68,350.40 L488.25,350.37 L489.84,350.31 L491.45,350.22 L493.07,350.10 L494.69,349.96 L496.30,349.78 L497.90,349.58 L499.46,349.35 L500.98,349.10 L502.46,348.82 L503.87,348.53 L505.22,348.21 L506.50,347.88 L507.69,347.53 L508.79,347.17 L509.79,346.80 L510.70,346.41 L511.49,346.03 L512.17,345.64 L512.73,345.24 L513.17,344.85 L513.49,344.46 L513.68,344.08 L513.74,343.71 L513.74,304.22 Z" fill="url(#g-blue)"/><path d="M512.52,306.18 L513.01,305.72 L513.38,305.27 L513.62,304.83 L513.73,304.39 L513.72,303.96 L513.58,303.55 L513.31,303.15 L512.92,302.77 L512.41,302.41 L511.77,302.08 L511.03,301.77 L510.17,301.49 L509.20,301.23 L508.14,301.01 L506.98,300.82 L505.74,300.66 L504.42,300.54 L503.03,300.45 L501.58,300.40 L500.07,300.38 L498.52,300.40 L496.94,300.45 L495.34,300.54 L493.72,300.66 L492.10,300.82 L490.48,301.01 L488.88,301.23 L487.30,301.49 L485.76,301.77 L484.27,302.08 L482.83,302.41 L481.45,302.77 L480.14,303.15 L478.92,303.55 L477.78,303.96 L476.74,304.39 L475.79,304.83 L474.96,305.27 L474.23,305.72 L473.62,306.18 L473.13,306.64 L472.77,307.09 L472.52,307.53 L472.41,307.97 L472.42,308.40 L472.56,308.81 L472.83,309.21 L473.22,309.59 L473.74,309.95 L474.37,310.28 L475.12,310.59 L475.98,310.87 L476.94,311.13 L478.00,311.35 L479.16,311.54 L480.40,311.70 L481.72,311.82 L483.11,311.91 L484.57,311.96 L486.07,311.98 L487.62,311.96 L489.20,311.91 L490.81,311.82 L492.42,311.70 L494.05,311.54 L495.66,311.35 L497.27,311.13 L498.84,310.87 L500.38,310.59 L501.87,310.28 L503.32,309.95 L504.69,309.59 L506.00,309.21 L507.22,308.81 L508.36,308.40 L509.41,307.97 L510.35,307.53 L511.19,307.09 L511.91,306.64 Z" fill="url(#t-blue)"/>
<path d="M47.00,358.16 L47.00,373.09 L47.06,373.46 L47.25,373.81 L47.57,374.14 L48.01,374.46 L48.57,374.76 L49.25,375.04 L50.05,375.30 L50.95,375.54 L51.95,375.74 L53.05,375.92 L54.25,376.08 L55.52,376.20 L56.87,376.30 L58.29,376.36 L59.76,376.39 L61.28,376.40 L62.85,376.37 L64.44,376.31 L66.05,376.22 L67.67,376.10 L69.29,375.96 L70.90,375.78 L72.50,375.58 L74.06,375.35 L75.58,375.10 L77.06,374.82 L78.47,374.53 L79.82,374.21 L81.10,373.88 L82.29,373.53 L83.39,373.17 L84.39,372.80 L85.30,372.41 L86.09,372.03 L86.77,371.64 L87.33,371.24 L87.77,370.85 L88.09,370.46 L88.28,370.08 L88.34,369.71 L88.34,354.23 Z" fill="url(#g-green)"/><path d="M87.12,356.19 L87.61,355.74 L87.98,355.28 L88.22,354.84 L88.33,354.40 L88.32,353.97 L88.18,353.56 L87.91,353.16 L87.52,352.78 L87.01,352.43 L86.37,352.09 L85.63,351.78 L84.77,351.50 L83.80,351.25 L82.74,351.02 L81.58,350.83 L80.34,350.68 L79.02,350.55 L77.63,350.46 L76.18,350.41 L74.67,350.39 L73.12,350.41 L71.54,350.46 L69.94,350.55 L68.32,350.68 L66.70,350.83 L65.08,351.02 L63.48,351.25 L61.90,351.50 L60.36,351.78 L58.87,352.09 L57.43,352.43 L56.05,352.78 L54.74,353.16 L53.52,353.56 L52.38,353.97 L51.34,354.40 L50.39,354.84 L49.56,355.28 L48.83,355.74 L48.22,356.19 L47.73,356.65 L47.37,357.10 L47.12,357.55 L47.01,357.98 L47.02,358.41 L47.16,358.83 L47.43,359.22 L47.82,359.60 L48.34,359.96 L48.97,360.29 L49.72,360.60 L50.58,360.88 L51.54,361.14 L52.60,361.36 L53.76,361.55 L55.00,361.71 L56.32,361.83 L57.71,361.92 L59.17,361.97 L60.67,361.99 L62.22,361.97 L63.80,361.92 L65.41,361.83 L67.02,361.71 L68.65,361.55 L70.26,361.36 L71.87,361.14 L73.44,360.88 L74.98,360.60 L76.47,360.29 L77.92,359.96 L79.29,359.60 L80.60,359.22 L81.82,358.83 L82.96,358.41 L84.01,357.98 L84.95,357.55 L85.79,357.10 L86.51,356.65 Z" fill="url(#t-green)"/>
<path d="M145.00,371.50 L145.00,373.09 L145.06,373.46 L145.25,373.81 L145.57,374.14 L146.01,374.46 L146.57,374.76 L147.25,375.04 L148.05,375.30 L148.95,375.54 L149.95,375.74 L151.05,375.92 L152.25,376.08 L153.52,376.20 L154.87,376.30 L156.29,376.36 L157.76,376.39 L159.28,376.40 L160.85,376.37 L162.44,376.31 L164.05,376.22 L165.67,376.10 L167.29,375.96 L168.90,375.78 L170.50,375.58 L172.06,375.35 L173.58,375.10 L175.06,374.82 L176.47,374.53 L177.82,374.21 L179.10,373.88 L180.29,373.53 L181.39,373.17 L182.39,372.80 L183.30,372.41 L184.09,372.03 L184.77,371.64 L185.33,371.24 L185.77,370.85 L186.09,370.46 L186.28,370.08 L186.34,369.71 L186.34,367.57 Z" fill="url(#g-green)"/><path d="M185.12,369.53 L185.61,369.08 L185.98,368.62 L186.22,368.18 L186.33,367.74 L186.32,367.31 L186.18,366.90 L185.91,366.50 L185.52,366.12 L185.01,365.77 L184.37,365.43 L183.63,365.12 L182.77,364.84 L181.80,364.59 L180.74,364.36 L179.58,364.17 L178.34,364.02 L177.02,363.89 L175.63,363.80 L174.18,363.75 L172.67,363.73 L171.12,363.75 L169.54,363.80 L167.94,363.89 L166.32,364.02 L164.70,364.17 L163.08,364.36 L161.48,364.59 L159.90,364.84 L158.36,365.12 L156.87,365.43 L155.43,365.77 L154.05,366.12 L152.74,366.50 L151.52,366.90 L150.38,367.31 L149.34,367.74 L148.39,368.18 L147.56,368.62 L146.83,369.08 L146.22,369.53 L145.73,369.99 L145.37,370.44 L145.12,370.89 L145.01,371.32 L145.02,371.75 L145.16,372.17 L145.43,372.56 L145.82,372.94 L146.34,373.30 L146.97,373.63 L147.72,373.94 L148.58,374.22 L149.54,374.48 L150.60,374.70 L151.76,374.89 L153.00,375.05 L154.32,375.17 L155.71,375.26 L157.17,375.31 L158.67,375.33 L160.22,375.31 L161.80,375.26 L163.41,375.17 L165.02,375.05 L166.65,374.89 L168.26,374.70 L169.87,374.48 L171.44,374.22 L172.98,373.94 L174.47,373.63 L175.92,373.30 L177.29,372.94 L178.60,372.56 L179.82,372.17 L180.96,371.75 L182.01,371.32 L182.95,370.89 L183.79,370.44 L184.51,369.99 Z" fill="url(#t-green)"/>
<path d="M243.00,355.49 L243.00,373.09 L243.06,373.46 L243.25,373.81 L243.57,374.14 L244.01,374.46 L244.57,374.76 L245.25,375.04 L246.05,375.30 L246.95,375.54 L247.95,375.74 L249.05,375.92 L250.25,376.08 L251.52,376.20 L252.87,376.30 L254.29,376.36 L255.76,376.39 L257.28,376.40 L258.85,376.37 L260.44,376.31 L262.05,376.22 L263.67,376.10 L265.29,375.96 L266.90,375.78 L268.50,375.58 L270.06,375.35 L271.58,375.10 L273.06,374.82 L274.47,374.53 L275.82,374.21 L277.10,373.88 L278.29,373.53 L279.39,373.17 L280.39,372.80 L281.30,372.41 L282.09,372.03 L282.77,371.64 L283.33,371.24 L283.77,370.85 L284.09,370.46 L284.28,370.08 L284.34,369.71 L284.34,351.56 Z" fill="url(#g-green)"/><path d="M283.12,353.52 L283.61,353.07 L283.98,352.62 L284.22,352.17 L284.33,351.73 L284.32,351.30 L284.18,350.89 L283.91,350.49 L283.52,350.11 L283.01,349.76 L282.37,349.42 L281.63,349.11 L280.77,348.83 L279.80,348.58 L278.74,348.36 L277.58,348.17 L276.34,348.01 L275.02,347.88 L273.63,347.80 L272.18,347.74 L270.67,347.72 L269.12,347.74 L267.54,347.80 L265.94,347.88 L264.32,348.01 L262.70,348.17 L261.08,348.36 L259.48,348.58 L257.90,348.83 L256.36,349.11 L254.87,349.42 L253.43,349.76 L252.05,350.11 L250.74,350.49 L249.52,350.89 L248.38,351.30 L247.34,351.73 L246.39,352.17 L245.56,352.62 L244.83,353.07 L244.22,353.52 L243.73,353.98 L243.37,354.43 L243.12,354.88 L243.01,355.32 L243.02,355.74 L243.16,356.16 L243.43,356.55 L243.82,356.93 L244.34,357.29 L244.97,357.63 L245.72,357.93 L246.58,358.22 L247.54,358.47 L248.60,358.69 L249.76,358.88 L251.00,359.04 L252.32,359.16 L253.71,359.25 L255.17,359.31 L256.67,359.32 L258.22,359.31 L259.80,359.25 L261.41,359.16 L263.02,359.04 L264.65,358.88 L266.26,358.69 L267.87,358.47 L269.44,358.22 L270.98,357.93 L272.47,357.63 L273.92,357.29 L275.29,356.93 L276.60,356.55 L277.82,356.16 L278.96,355.74 L280.01,355.32 L280.95,354.88 L281.79,354.43 L282.51,353.98 Z" fill="url(#t-green)"/>
<path d="M341.00,272.78 L341.00,373.09 L341.06,373.46 L341.25,373.81 L341.57,374.14 L342.01,374.46 L342.57,374.76 L343.25,375.04 L344.05,375.30 L344.95,375.54 L345.95,375.74 L347.05,375.92 L348.25,376.08 L349.52,376.20 L350.87,376.30 L352.29,376.36 L353.76,376.39 L355.28,376.40 L356.85,376.37 L358.44,376.31 L360.05,376.22 L361.67,376.10 L363.29,375.96 L364.90,375.78 L366.50,375.58 L368.06,375.35 L369.58,375.10 L371.06,374.82 L372.47,374.53 L373.82,374.21 L375.10,373.88 L376.29,373.53 L377.39,373.17 L378.39,372.80 L379.30,372.41 L380.09,372.03 L380.77,371.64 L381.33,371.24 L381.77,370.85 L382.09,370.46 L382.28,370.08 L382.34,369.71 L382.34,268.85 Z" fill="url(#g-green)"/><path d="M381.12,270.82 L381.61,270.36 L381.98,269.91 L382.22,269.46 L382.33,269.02 L382.32,268.60 L382.18,268.18 L381.91,267.79 L381.52,267.41 L381.01,267.05 L380.37,266.71 L379.63,266.41 L378.77,266.12 L377.80,265.87 L376.74,265.65 L375.58,265.46 L374.34,265.30 L373.02,265.18 L371.63,265.09 L370.18,265.03 L368.67,265.02 L367.12,265.03 L365.54,265.09 L363.94,265.18 L362.32,265.30 L360.70,265.46 L359.08,265.65 L357.48,265.87 L355.90,266.12 L354.36,266.41 L352.87,266.71 L351.43,267.05 L350.05,267.41 L348.74,267.79 L347.52,268.18 L346.38,268.60 L345.34,269.02 L344.39,269.46 L343.56,269.91 L342.83,270.36 L342.22,270.82 L341.73,271.27 L341.37,271.72 L341.12,272.17 L341.01,272.61 L341.02,273.04 L341.16,273.45 L341.43,273.85 L341.82,274.23 L342.34,274.58 L342.97,274.92 L343.72,275.23 L344.58,275.51 L345.54,275.76 L346.60,275.98 L347.76,276.17 L349.00,276.33 L350.32,276.46 L351.71,276.54 L353.17,276.60 L354.67,276.62 L356.22,276.60 L357.80,276.54 L359.41,276.46 L361.02,276.33 L362.65,276.17 L364.26,275.98 L365.87,275.76 L367.44,275.51 L368.98,275.23 L370.47,274.92 L371.92,274.58 L373.29,274.23 L374.60,273.85 L375.82,273.45 L376.96,273.04 L378.01,272.61 L378.95,272.17 L379.79,271.72 L380.51,271.27 Z" fill="url(#t-green)"/>
<path d="M439.00,352.82 L439.00,373.09 L439.06,373.46 L439.25,373.81 L439.57,374.14 L440.01,374.46 L440.57,374.76 L441.25,375.04 L442.05,375.30 L442.95,375.54 L443.95,375.74 L445.05,375.92 L446.25,376.08 L447.52,376.20 L448.87,376.30 L450.29,376.36 L451.76,376.39 L453.28,376.40 L454.85,376.37 L456.44,376.31 L458.05,376.22 L459.67,376.10 L461.29,375.96 L462.90,375.78 L464.50,375.58 L466.06,375.35 L467.58,375.10 L469.06,374.82 L470.47,374.53 L471.82,374.21 L473.10,373.88 L474.29,373.53 L475.39,373.17 L476.39,372.80 L477.30,372.41 L478.09,372.03 L478.77,371.64 L479.33,371.24 L479.77,370.85 L480.09,370.46 L480.28,370.08 L480.34,369.71 L480.34,348.89 Z" fill="url(#g-green)"/><path d="M479.12,350.86 L479.61,350.40 L479.98,349.95 L480.22,349.50 L480.33,349.06 L480.32,348.64 L480.18,348.22 L479.91,347.83 L479.52,347.45 L479.01,347.09 L478.37,346.75 L477.63,346.45 L476.77,346.16 L475.80,345.91 L474.74,345.69 L473.58,345.50 L472.34,345.34 L471.02,345.22 L469.63,345.13 L468.18,345.07 L466.67,345.06 L465.12,345.07 L463.54,345.13 L461.94,345.22 L460.32,345.34 L458.70,345.50 L457.08,345.69 L455.48,345.91 L453.90,346.16 L452.36,346.45 L450.87,346.75 L449.43,347.09 L448.05,347.45 L446.74,347.83 L445.52,348.22 L444.38,348.64 L443.34,349.06 L442.39,349.50 L441.56,349.95 L440.83,350.40 L440.22,350.86 L439.73,351.31 L439.37,351.76 L439.12,352.21 L439.01,352.65 L439.02,353.08 L439.16,353.49 L439.43,353.89 L439.82,354.27 L440.34,354.62 L440.97,354.96 L441.72,355.27 L442.58,355.55 L443.54,355.80 L444.60,356.02 L445.76,356.21 L447.00,356.37 L448.32,356.50 L449.71,356.58 L451.17,356.64 L452.67,356.66 L454.22,356.64 L455.80,356.58 L457.41,356.50 L459.02,356.37 L460.65,356.21 L462.26,356.02 L463.87,355.80 L465.44,355.55 L466.98,355.27 L468.47,354.96 L469.92,354.62 L471.29,354.27 L472.60,353.89 L473.82,353.49 L474.96,353.08 L476.01,352.65 L476.95,352.21 L477.79,351.76 L478.51,351.31 Z" fill="url(#t-green)"/>
<path d="M125.5,170.5 L136,182.5" fill="none" stroke="#9a9a9a" stroke-width="0.8"/>
<path d="M297.5,170 L303,180.5" fill="none" stroke="#9a9a9a" stroke-width="0.8"/>
<path d="M367.5,17.3 L371,23.5" fill="none" stroke="#9a9a9a" stroke-width="0.8"/>
<path d="M332,279 L337,288" fill="none" stroke="#9a9a9a" stroke-width="0.8"/>
<path d="M332,355.6 L338.2,355.6 L340.5,349" fill="none" stroke="#9a9a9a" stroke-width="0.8"/>
<path d="M340.5,349 L368.5,265.5" fill="none" stroke="#b9c0b6" stroke-width="0.8"/>
<path d="M474.5,320.8 L479.5,320.8 L498.4,301" fill="none" stroke="#b9c0b6" stroke-width="0.8"/>
<path d="M435.4,364.9 L441.3,364.9" fill="none" stroke="#9a9a9a" stroke-width="0.8"/>
<path d="M441.3,364.9 L465.6,345.2" fill="none" stroke="#b9c0b6" stroke-width="0.8"/>
<path d="M397.2,201 L402.4,208.3" fill="none" stroke="#9a9a9a" stroke-width="0.8"/>
<path d="M523,281 L533,288.7" fill="none" stroke="#9a9a9a" stroke-width="0.8"/>
<path d="M191.5,327.7 L204.4,331.9" fill="none" stroke="#9a9a9a" stroke-width="0.8"/>
<path d="M67.6,335.9 L72.4,335.9 L74.8,349.6" fill="none" stroke="#9a9a9a" stroke-width="0.8"/>
<text x="159" y="15.6" font-family="'Liberation Sans', Arial, sans-serif" font-size="15.9" font-weight="bold" fill="#6b1060" stroke="#6b1060" stroke-width="0.65" textLength="32.5" lengthAdjust="spacingAndGlyphs" >100%</text>
<text x="352.6" y="12.5" font-family="'Liberation Sans', Arial, sans-serif" font-size="15.9" font-weight="bold" fill="#6b1060" stroke="#6b1060" stroke-width="0.65" textLength="32.5" lengthAdjust="spacingAndGlyphs" >100%</text>
<text x="453" y="15.6" font-family="'Liberation Sans', Arial, sans-serif" font-size="15.9" font-weight="bold" fill="#6b1060" stroke="#6b1060" stroke-width="0.65" textLength="32.5" lengthAdjust="spacingAndGlyphs" >100%</text>
<text x="550.6" y="15.6" font-family="'Liberation Sans', Arial, sans-serif" font-size="15.9" font-weight="bold" fill="#6b1060" stroke="#6b1060" stroke-width="0.65" textLength="32.5" lengthAdjust="spacingAndGlyphs" >100%</text>
<text x="264" y="268.5" font-family="'Liberation Sans', Arial, sans-serif" font-size="15.9" font-weight="bold" fill="#6b1060" stroke="#6b1060" stroke-width="0.65" textLength="18" lengthAdjust="spacingAndGlyphs" >5%</text>
<text x="113.5" y="165" font-family="'Liberation Sans', Arial, sans-serif" font-size="15.9" font-weight="bold" fill="#c8202a" stroke="#c8202a" stroke-width="0.65" textLength="25.5" lengthAdjust="spacingAndGlyphs" >50%</text>
<text x="223.3" y="40.7" font-family="'Liberation Sans', Arial, sans-serif" font-size="15.9" font-weight="bold" fill="#c8202a" stroke="#c8202a" stroke-width="0.65" textLength="32.4" lengthAdjust="spacingAndGlyphs" >100%</text>
<text x="320.6" y="273.2" font-family="'Liberation Sans', Arial, sans-serif" font-size="15.9" font-weight="bold" fill="#c8202a" stroke="#c8202a" stroke-width="0.65" textLength="24.6" lengthAdjust="spacingAndGlyphs" >10%</text>
<text x="408" y="80.6" font-family="'Liberation Sans', Arial, sans-serif" font-size="15.9" font-weight="bold" fill="#c8202a" stroke="#c8202a" stroke-width="0.65" textLength="25.5" lengthAdjust="spacingAndGlyphs" >85%</text>
<text x="511" y="276.8" font-family="'Liberation Sans', Arial, sans-serif" font-size="15.9" font-weight="bold" fill="#c8202a" stroke="#c8202a" stroke-width="0.65" textLength="25" lengthAdjust="spacingAndGlyphs" >10%</text>
<text x="84.5" y="310.5" font-family="'Liberation Sans', Arial, sans-serif" font-size="15.9" font-weight="bold" fill="#2a5a9c" stroke="#2a5a9c" stroke-width="0.65" textLength="18" lengthAdjust="spacingAndGlyphs" >8%</text>
<text x="182.2" y="322.6" font-family="'Liberation Sans', Arial, sans-serif" font-size="15.9" font-weight="bold" fill="#2a5a9c" stroke="#2a5a9c" stroke-width="0.65" textLength="18" lengthAdjust="spacingAndGlyphs" >3%</text>
<text x="285" y="165" font-family="'Liberation Sans', Arial, sans-serif" font-size="15.9" font-weight="bold" fill="#2a5a9c" stroke="#2a5a9c" stroke-width="0.65" textLength="26" lengthAdjust="spacingAndGlyphs" >60%</text>
<text x="384.5" y="196.4" font-family="'Liberation Sans', Arial, sans-serif" font-size="15.9" font-weight="bold" fill="#2a5a9c" stroke="#2a5a9c" stroke-width="0.65" textLength="25.5" lengthAdjust="spacingAndGlyphs" >50%</text>
<text x="447.6" y="326" font-family="'Liberation Sans', Arial, sans-serif" font-size="15.9" font-weight="bold" fill="#2a5a9c" stroke="#2a5a9c" stroke-width="0.65" textLength="24.2" lengthAdjust="spacingAndGlyphs" >15%</text>
<text x="46.4" y="342.2" font-family="'Liberation Sans', Arial, sans-serif" font-size="15.9" font-weight="bold" fill="#3b6b2f" stroke="#3b6b2f" stroke-width="0.65" textLength="18.2" lengthAdjust="spacingAndGlyphs" >6%</text>
<text x="141.2" y="359.7" font-family="'Liberation Sans', Arial, sans-serif" font-size="15.9" font-weight="bold" fill="#3b6b2f" stroke="#3b6b2f" stroke-width="0.65" textLength="18" lengthAdjust="spacingAndGlyphs" >1%</text>
<text x="234.5" y="345.6" font-family="'Liberation Sans', Arial, sans-serif" font-size="15.9" font-weight="bold" fill="#3b6b2f" stroke="#3b6b2f" stroke-width="0.65" textLength="18.3" lengthAdjust="spacingAndGlyphs" >7%</text>
<text x="304.8" y="361" font-family="'Liberation Sans', Arial, sans-serif" font-size="15.9" font-weight="bold" fill="#3b6b2f" stroke="#3b6b2f" stroke-width="0.65" textLength="24.7" lengthAdjust="spacingAndGlyphs" >38%</text>
<text x="409.7" y="370" font-family="'Liberation Sans', Arial, sans-serif" font-size="15.9" font-weight="bold" fill="#3b6b2f" stroke="#3b6b2f" stroke-width="0.65" textLength="18.2" lengthAdjust="spacingAndGlyphs" >8%</text>
<text x="11.9" y="408.6" font-family="'Liberation Sans', Arial, sans-serif" font-size="15.7" font-weight="bold" fill="#1a1a1a" stroke="#1a1a1a" stroke-width="0.65" textLength="79.6" lengthAdjust="spacingAndGlyphs" >Benzapyrene</text>
<text x="108" y="408.6" font-family="'Liberation Sans', Arial, sans-serif" font-size="15.7" font-weight="bold" fill="#1a1a1a" stroke="#1a1a1a" stroke-width="0.65" textLength="82.2" lengthAdjust="spacingAndGlyphs" >Black Carbon</text>
<text x="238" y="408.6" font-family="'Liberation Sans', Arial, sans-serif" font-size="15.7" font-weight="bold" fill="#1a1a1a" stroke="#1a1a1a" stroke-width="0.65" textLength="19.2" lengthAdjust="spacingAndGlyphs" >CH</text>
<text x="331.4" y="408.6" font-family="'Liberation Sans', Arial, sans-serif" font-size="15.7" font-weight="bold" fill="#1a1a1a" stroke="#1a1a1a" stroke-width="0.65" textLength="26.4" lengthAdjust="spacingAndGlyphs" >NOx</text>
<text x="433.5" y="408.6" font-family="'Liberation Sans', Arial, sans-serif" font-size="15.7" font-weight="bold" fill="#1a1a1a" stroke="#1a1a1a" stroke-width="0.65" textLength="19.8" lengthAdjust="spacingAndGlyphs" >CO</text>
<text x="631.0" y="301.8" font-family="'Liberation Sans', Arial, sans-serif" font-weight="bold" fill="#1a1a1a" stroke="#1a1a1a" stroke-width="0.5" textLength="54.5" lengthAdjust="spacingAndGlyphs"><tspan font-size="18.67">P</tspan><tspan font-size="14.6">ETROL</tspan></text>
<text x="597.6" y="327.4" font-family="'Liberation Sans', Arial, sans-serif" font-weight="bold" fill="#1a1a1a" stroke="#1a1a1a" stroke-width="0.5" textLength="48.8" lengthAdjust="spacingAndGlyphs"><tspan font-size="18.67">D</tspan><tspan font-size="14.6">IESEL</tspan></text>
<text x="564.4" y="352.7" font-family="'Liberation Sans', Arial, sans-serif" font-weight="bold" fill="#1a1a1a" stroke="#1a1a1a" stroke-width="0.5" textLength="64" lengthAdjust="spacingAndGlyphs"><tspan font-size="18.67">P</tspan><tspan font-size="14.6">ROPANE</tspan></text>
<text x="531.2" y="377.2" font-family="'Liberation Sans', Arial, sans-serif" font-weight="bold" fill="#1a1a1a" stroke="#1a1a1a" stroke-width="0.5" textLength="65.8" lengthAdjust="spacingAndGlyphs"><tspan font-size="18.67">M</tspan><tspan font-size="14.6">ETHANE</tspan></text>
</svg>
</body></html>
